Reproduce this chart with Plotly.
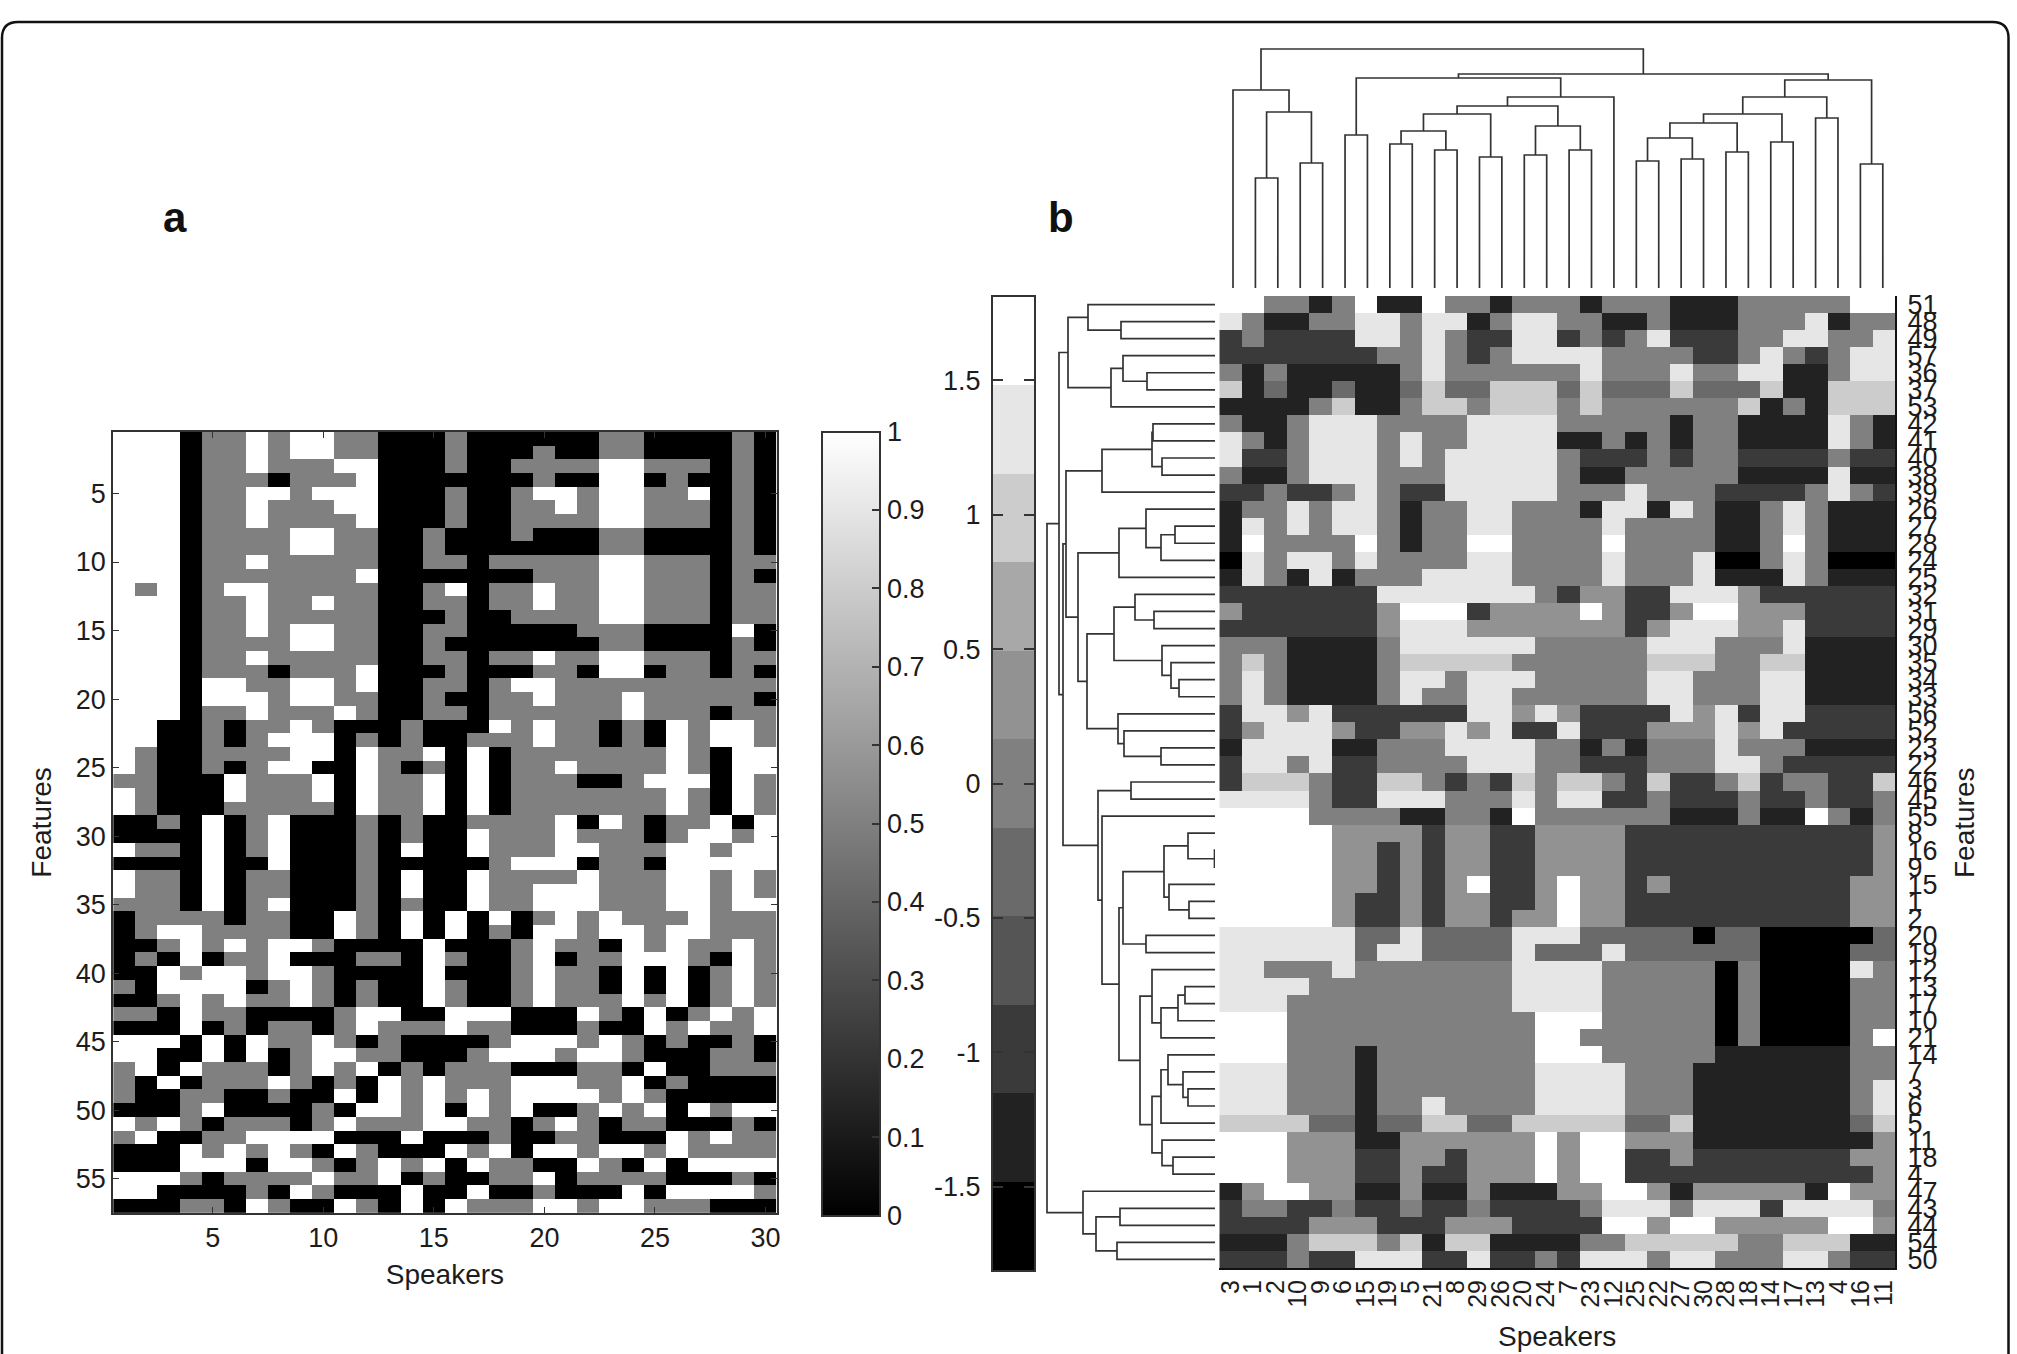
import plotly.graph_objects as go

W, H = 2017, 1354
INK = "#1c1c1c"
LINE = "#333333"
FONT = "Liberation Sans, Arial, sans-serif"

# panel a cells: 0 = black, 1 = grey, 2 = white
panel_a_rows = [
 "222 0 11 2 1 22 11 000 1 000000 11 0000 1 0",
 "222 0 11 2 1 22 11 000 1 000 1 00 11 0000 1 0",
 "222 0 11 2 1 11 22 000 1 00 1111 22 111 0 1 0",
 "222 0 11 1 0 111 2 000 0 00 0 1 00 22 0 1 0 0 1 0",
 "222 0 11 22 1 222 000 1 00 1 22 1 22 11 2 0 1 0",
 "222 0 11 2 111 22 000 1 00 11 2 1 22 111 0 1 0",
 "222 0 11 2 1111 2 000 1 00 1111 22 111 0 1 0",
 "222 0 1111 22 11 00 1 000 1 000 11 0000 1 0",
 "222 0 1111 22 11 00 1 000 0 000 11 0000 1 0",
 "222 0 11 2 11111 00 11 0 11111 22 111 0 1 1",
 "222 0 1111111 2 00 000 00 111 22 111 0 1 0",
 "212 0 1 22 11111 00 1 2 0 11 2 11 22 111 0 11",
 "222 0 11 2 11 2 11 00 11 0 11 2 11 22 111 0 11",
 "222 0 11 2 11111 00 0 1 0 0 1111 22 111 0 11",
 "222 0 11 2 1 22 11 00 11 0 0000 1 11 0000 2 0",
 "222 0 11 1 1 22 11 00 1 0 000000 11 0000 1 0",
 "222 0 11 2 11111 00 11 0 11 2 11 22 111 0 11",
 "222 0 111 0 111 2 00 0 1 0 00 11 0 22 0 11 0 1 0",
 "222 0 22 11 22 1 2 00 11 0 1 22 1111111111",
 "222 0 222 1 22 1 1 00 1 0 0 11 2 111 2 11111 0",
 "222 0 11 2 111 2 1 00 11 0 111111 2 111 0 11",
 "22 00 1 0 11 2 1 000 1 000 2 1 2 11 0 1 0 2 1 22 1",
 "22 00 1 0 1 222 0 1 0 1 00 111 2 11 0 1 0 2 1 22 1",
 "2 1 00 1111 22 0 2 11 2 0 2 0 1111111 2 1 0 2 2",
 "2 1 00 1 0 1 22 00 2 1 0 1 0 2 0 11 2 1111 2 1 0 2 2",
 "11 000 2 111 2 0 2 11 2 0 2 0 111 00 1 222 0 2 1",
 "2 1 000 2 111 2 0 2 11 2 0 2 0 1111111 2 1 0 2 1",
 "2 1 000 1 1111 0 2 11 2 0 2 0 1111111 2 1 0 2 1",
 "00 1 0 2 0 1 2 000 1 0 1 00 1111 2 0 2 1 0 11 2 0 2",
 "0000 2 0 1 2 000 1 0 1 00 2 111 2 111 0 1 22 1 2",
 "2 11 0 2 0 1 2 000 1 0 2 00 2 111 22 111 22 1 22",
 "0000 2 00 2 000 1 0 000 0 1 222 0 11 0 22222",
 "2 11 0 2 0 11 000 1 0 2 00 2 1111 2 1 11 22 1 2 1",
 "2 11 0 2 0 11 000 1 0 2 00 2 11 222 111 22 1 2 1",
 "111 0 2 0 1 2 000 1 0 1 00 2 11 222 111 22 1 22",
 "0 1111 0 11 00 2 1 0 2 0 2 0 2 0 1 2 1 2 111 2 111",
 "0 1 22 1111 00 2 1 0 2 0 2 0 1 0 22 1 22 1 22 111",
 "00 1 2 1 2 1 22 1 0000 2 000 1 2 11 0 2 1 2 11 2 1",
 "0 1 0 2 0 11 2 000 11 0 2 1 00 1 2 0 11 2 22 1 0 2 1",
 "00 2 1 22 1 22 1 0000 2 000 1 2 11 0 2 0 2 0 1 2 1",
 "1 0 2222 0 1 2 1 0 1 00 2 1 00 1 2 11 0 2 0 2 0 1 2 1",
 "00 1 2 1 2 11 2 1 0 1 00 2 1 00 1 2 111 2 1 2 0 1 2 1",
 "11 0 2 11 0000 1 22 00 222 000 2 1 0 2 0 1 2 1 2",
 "000 2 0 1 0 11 0 1 2 111 2 11 000 1 00 2 1 2 11 2",
 "222 0 2 0 2 11 2 1 0 1 0000 1 222 1 2 1 0 1 00 1 0",
 "22 00 2 0 2 0 1 22 11 000 1 222 1 22 1 000 11 0",
 "1 2 0 2 111 0 1 2 1 2 0 1 0 111 000 11 0 2 00 111",
 "1 0 2 0 111 2 1 0 1 0 2 1 2 111 222 11 2 0 1 0000",
 "1 00 11 00 1 00 2 0 2 1 2 1 2 1 2222 1 2 1 00000",
 "000 1 2 0000 1 0 22 1 2 0 2 1 2 00 1 2 1 2 0 2 1 22",
 "2 1 2 1 0 111 0 1 2 111 22 11 0 1 2 1 0 11 000 1 0",
 "1 2 00 11 2222 000 2 000 1 00 11 000 2 1 2 11",
 "000 2 1 2 1 2 1 0 2 1 000 2 1 2 0 22 1 22 1 2 1111",
 "000 222 0 22 1 0 1 2 1 2 0 2 11 00 2 1 0 2 0 2222",
 "222 1 0 1111 2 11 2 0 1 00 11 2 0 1111 000 1 0",
 "22 0000 1 0 2 1 000 2 00 2 00 1 000 2 0 2222 1",
 "000 11 0 2 1 00 2 1 0 2 0 2 111 22 1 22 111 000",
]
panel_a_levels = {"0": 0.0, "1": 0.5, "2": 1.0}
speakers_a = list(range(1, 31))
features_a = list(range(1, 58))

# panel b cells: one character per grey band, 0 = darkest ... a = white
panel_b_rows = [
 "aa 55 1 5 a 11 a 55 1 555 1 555 111 55555 aa",
 "9 5 11 55 99 5 99 1 5 99 55 11 5 111 555 9 1 55",
 "2 5 2222 99 5 9 5 22 99 2 5 2 5 9 222 55 99 55 9",
 "2222222 55 9 5 2 5 9999 5555 22 5 9 5 2 5 99",
 "5 1 5 11111 5 9 555555 9 555 9 55 99 11 5 99",
 "8 1 4 11 4 11 4 8 44 888 4 8 444 8 444 8 11 888",
 "1111 5 8 11 5 88 5 888 5 8 555555 8 1 5 1 888",
 "5 11 5 999 5555 9999 55555 1 55 1111 9 5 1",
 "9 5 1 5 999 5 9 55 9999 11 5 1 5 1 55 1111 9 5 1",
 "9 22 5 999 5 9 5 99999 5 222 5 2 55 2222 5 22",
 "5 11 5 999 555 99999 5 11 55555 1111 9 11",
 "22 5 22 5 9 5 22 99999 555 9 555 2222 5 9 5 2",
 "1 55 9 5 99 5 1 55 99 555 1 99 1 9 5 11 5 9 5 111",
 "1 9 5 9 5 99 5 1 55 99 5555 9 5555 11 5 9 5 111",
 "1 a 5555 a 5 1 55 aa 5555 a 5555 11 5 a 5 111",
 "0 9 5 99 5 9 5555 99 5555 9 555 9 00 5 9 5 000",
 "1 9 5 1 9 1 555 9999 5555 9 555 9 111 9 5 111",
 "2222222 9999999 5 2 66 22 999 6 222222",
 "6 222222 6 aaa 2 6666 a 6 22 6 aa 666 2222",
 "2222222 6 999 6666666 2 6 999 66 9 2222",
 "555 1111 5 999999 55555 999 555 9 1111",
 "5 8 5 1111 5 88888 555555 888 55 88 1111",
 "5 9 5 1111 5 99 5 999 55555 99 555 99 1111",
 "5 9 5 1111 5 9 55 99 555555 99 555 99 1111",
 "2 99 6 9 222222 99 6 9 6 2222 9 6 9 2 99 2222",
 "2 6 999 6 22 66 9 6 9 22 9 222 666 9 6 9 22222",
 "1 9999 11 555 9999 55 1 5 1 555 9 555 1111",
 "2 99 5 9 22 5555 999 55 222 555 99 5 22222",
 "2 888 5 22 88 5 2 5 2 8 5 88 5 2 8 22 5 8 2 55 22 8",
 "9999 5 22 999 555 9 5 99 22 5 222 5 22 5 22 5",
 "aaaa 5555 11 55 1 a 555555 111 5 11 a 5 1 5",
 "aaaaa 6666 2 66 22 6666 22222222222 6",
 "aaaaa 66 2 6 2 66 22 6666 22222222222 6",
 "aaaaa 66 2 6 2 66 22 6666 22222222222 6",
 "aaaaa 66 2 6 2 6 a 22 6 a 66 2 6 22222222 66",
 "aaaaa 6 22 6 2 66 22 6 a 66 2222222222 66",
 "aaaaa 6 22 6 2 66 2 66 a 66 2222222222 66",
 "999999 44 9 4444 999 44444 0 44 00000 4",
 "999999 4 99 4444 9 444 9 444444 0000 44",
 "99 555 9 5555555 9999 55555 0 5 0000 9 5",
 "9999 555555555 9999 55555 0 5 0000 55",
 "999 5555555555 9999 55555 0 5 0000 55",
 "aaa 55555555555 aaa 55555 0 5 0000 55",
 "aaa 55555555555 aa 555555 0 5 0000 5 a",
 "aaa 555 1 5555555 aaa 55555 111111 55",
 "999 555 1 5555555 9999 555 1111111 55",
 "999 555 1 5555555 9999 555 1111111 5 9",
 "999 555 1 55 9 5555 9999 555 1111111 5 9",
 "8888 44 1 44 88 44 88888 44 8 1111111 4 8",
 "aaa 666 11 666666 a 6 aa 666 11111111 6",
 "aaa 666 22 66 2 666 a 6 aa 22 6 2222222 66",
 "aaa 666 22 6 22 666 a 6 aa 22222222222 6",
 "1 6 aa 66 11 6 11 6 111 66 aa 6 1 66666 1 a 66",
 "2 55 22 5 22 5 22 5 2222 5 999 5 999 2 9999 5",
 "2222 666 222 666 2222 aa 6 aa 66666 aa 6",
 "111 5 888 5 8 1 88 1111 55 88888 55 888 11",
 "222 5 22 999 22 9 22 5 2 999 5 99 555 99 5 22",
]
band_chars = "0123456789a"
band_grays = [0, 34, 58, 85, 106, 128, 146, 168, 204, 230, 255]
colorbar_b_limit = 1.81
speakers_b = [3, 1, 2, 10, 9, 6, 15, 19, 5, 21, 8, 29, 26, 20, 24, 7, 23, 12, 25, 22,
              27, 30, 28, 18, 14, 17, 13, 4, 16, 11]
features_b = [51, 48, 49, 57, 36, 37, 53, 42, 41, 40, 38, 39, 26, 27, 28, 24, 25, 32, 31,
              29, 30, 35, 34, 33, 56, 52, 23, 22, 46, 45, 55, 8, 16, 9, 15, 1, 2, 20, 19,
              12, 13, 17, 10, 21, 14, 7, 3, 6, 5, 11, 18, 4, 47, 43, 44, 54, 50]

# dendrograms: (node, left child, right child, height); integers are leaf positions
top_merges = [
 ("A", 2, 3, 110), ("B", 4, 5, 125), ("C", "A", "B", 176), ("D", 1, "C", 198),
 ("E", 6, 7, 153), ("F", 8, 9, 144), ("G", 10, 11, 138), ("H", "F", "G", 157),
 ("I", 12, 13, 131), ("J", "H", "I", 174), ("K", 14, 15, 133), ("L", 16, 17, 138),
 ("M", "K", "L", 162), ("N", "J", "M", 182), ("O", "N", 18, 191), ("P", "E", "O", 210),
 ("Q", 19, 20, 127), ("R", 21, 22, 129), ("S", "Q", "R", 150), ("T", 23, 24, 136),
 ("U", "S", "T", 165), ("V", 25, 26, 146), ("X", "U", "V", 174), ("Y", 27, 28, 170),
 ("Z", "X", "Y", 191), ("AA", 29, 30, 124), ("AB", "Z", "AA", 208),
 ("AC", "P", "AB", 214), ("AD", "D", "AC", 239),
]
left_merges = [
 ("L1", 2, 3, 94), ("L2", 1, "L1", 127), ("L3", 5, 6, 68), ("L4", 4, "L3", 92),
 ("L5", "L4", 7, 104), ("L6", "L2", "L5", 147), ("L7", 8, 9, 62), ("L8", 10, 11, 53),
 ("L9", "L7", "L8", 63), ("L10", "L9", 12, 113), ("L11", 14, 15, 40), ("L12", "L11", 16, 54),
 ("L13", 13, "L12", 69), ("L14", "L13", 17, 96), ("L15", 19, 20, 61), ("L16", 18, "L15", 80),
 ("L17", 23, 24, 36), ("L18", 22, "L17", 44), ("L19", 21, "L18", 53), ("L20", "L16", "L19", 101),
 ("L21", 27, 28, 54), ("L22", 26, "L21", 91), ("L23", 25, "L22", 97), ("L24", "L20", "L23", 128),
 ("L25", "L14", "L24", 137), ("L26", "L10", "L25", 149), ("L27", 29, 30, 84), ("L28", 33, 34, 0.5),
 ("L29", 32, "L28", 27), ("L30", 36, 37, 26), ("L31", 35, "L30", 46), ("L32", "L29", "L31", 51),
 ("L33", 38, 39, 69), ("L34", "L32", "L33", 92), ("L35", 41, 42, 30), ("L36", "L35", 43, 37),
 ("L37", "L36", 44, 54), ("L38", 40, "L37", 63), ("L39", 47, 48, 27), ("L40", 46, "L39", 32),
 ("L41", 45, "L40", 47), ("L42", "L41", 49, 54), ("L43", 51, 52, 42), ("L44", 50, "L43", 53),
 ("L45", "L42", "L44", 63), ("L46", "L38", "L45", 75), ("L47", "L34", "L46", 96), ("L48", 31, "L47", 113),
 ("L49", "L27", "L48", 117), ("L50", "L26", "L49", 152), ("L51", "L6", "L50", 156),
 ("L52", 54, 55, 95), ("L53", 56, 57, 98), ("L54", "L52", "L53", 119), ("L55", 53, "L54", 132),
 ("L56", "L51", "L55", 168),
]


def dendro_paths(merges):
    """Leaf-position / height polyline through every merge, separated by gaps."""
    pos, hgt = {}, {}
    along, up = [], []
    for name, a, b, h in merges:
        pa, pb = pos.get(a, a), pos.get(b, b)
        ha, hb = hgt.get(a, 0), hgt.get(b, 0)
        along += [pa, pa, pb, pb, None]
        up += [ha, h, h, hb, None]
        pos[name], hgt[name] = (pa + pb) / 2, h
    return along, up


def px_x(x):
    return x / W


def px_y(y):
    return 1 - y / H


def cells(rows):
    return [list(r.replace(" ", "")) for r in rows]


fig = go.Figure()

tick_a = dict(family=FONT, size=27, color=INK)
tick_key = dict(family=FONT, size=27, color=INK)
tick_right = dict(family=FONT, size=27, color=INK)
tick_bottom = dict(family=FONT, size=25, color=INK)
title_font = dict(family=FONT, size=28, color=INK)

# ---- panel a ----
Z_a = [[panel_a_levels[c] for c in row] for row in cells(panel_a_rows)]
AX_L, AX_R, AY_T, AY_B = 113.2, 776.6, 431.8, 1213
CB_L, CB_R, CB_T, CB_B = 822, 880, 431.5, 1215
fig.add_trace(go.Heatmap(
    z=Z_a, x=speakers_a, y=features_a, zmin=0, zmax=1,
    colorscale=[[0, "rgb(0,0,0)"], [1, "rgb(255,255,255)"]],
    xaxis="x", yaxis="y", hoverinfo="skip",
    colorbar=dict(
        x=px_x(CB_L), xanchor="left", xpad=0, ypad=0,
        y=px_y(CB_T), yanchor="top", len=(CB_B - CB_T) / H, lenmode="fraction",
        thickness=CB_R - CB_L, thicknessmode="pixels",
        tick0=0, dtick=0.1, ticks="inside", ticklen=9, tickwidth=1.5, tickcolor=LINE,
        tickfont=tick_key,
        outlinecolor=LINE, outlinewidth=2, borderwidth=0,
    ),
))

# ---- panel b ----
n_bands = len(band_chars)
band_width = 2 * colorbar_b_limit / n_bands
band_center = {c: -colorbar_b_limit + (i + 0.5) * band_width for i, c in enumerate(band_chars)}
band_scale = []
for i, g in enumerate(band_grays):
    col = f"rgb({g},{g},{g})"
    band_scale += [[i / n_bands, col], [(i + 1) / n_bands, col]]

Z_b = [[band_center[c] for c in row] for row in cells(panel_b_rows)]
slots_x = list(range(1, 31))
slots_y = list(range(1, 58))
BX_L, BX_R, BY_T, BY_B = 1219.3, 1895, 296, 1268
fig.add_trace(go.Heatmap(
    z=Z_b, x=slots_x, y=slots_y, zmin=-colorbar_b_limit, zmax=colorbar_b_limit,
    colorscale=band_scale, showscale=False, xaxis="x2", yaxis="y2", hoverinfo="skip",
))

# colour key of panel b, drawn on its own axis so its labels sit on the left
band_values = [band_center[c] for c in band_chars]
fig.add_trace(go.Heatmap(
    z=[[v] for v in band_values], x=[0], y=band_values,
    zmin=-colorbar_b_limit, zmax=colorbar_b_limit, colorscale=band_scale, showscale=False,
    xaxis="x5", yaxis="y5", hoverinfo="skip",
))

# dendrograms
tx, ty = dendro_paths(top_merges)
fig.add_trace(go.Scatter(x=tx, y=ty, mode="lines", line=dict(color=LINE, width=1.7),
                         xaxis="x3", yaxis="y3", hoverinfo="skip", showlegend=False))
lx, ly = dendro_paths(left_merges)
fig.add_trace(go.Scatter(x=ly, y=lx, mode="lines", line=dict(color=LINE, width=1.7),
                         xaxis="x4", yaxis="y4", hoverinfo="skip", showlegend=False))

hidden = dict(visible=False, fixedrange=True)
shapes = []
# left-hand ticks of panel a's colour key
for t in [k / 10 for k in range(1, 10)]:
    yy = CB_B + (CB_T - CB_B) * t
    shapes.append(dict(type="line", xref="paper", yref="paper",
                       x0=px_x(CB_L), x1=px_x(CB_L + 9), y0=px_y(yy), y1=px_y(yy),
                       line=dict(color=LINE, width=1.5)))
# rounded frame around the whole figure, open at the bottom
FL, FR, FT, R = 2.0, 2008.5, 22.0, 16.0
frame = (f"M {px_x(FL)} 0 L {px_x(FL)} {px_y(FT + R)} "
         f"Q {px_x(FL)} {px_y(FT)} {px_x(FL + R)} {px_y(FT)} "
         f"L {px_x(FR - R)} {px_y(FT)} "
         f"Q {px_x(FR)} {px_y(FT)} {px_x(FR)} {px_y(FT + R)} "
         f"L {px_x(FR)} 0")
shapes.append(dict(type="path", xref="paper", yref="paper", path=frame,
                   line=dict(color="#111111", width=2.5)))

fig.update_layout(
    width=W, height=H, margin=dict(l=0, r=0, t=0, b=0, pad=0, autoexpand=False),
    paper_bgcolor="white", plot_bgcolor="white", showlegend=False,
    font=dict(family=FONT, color=INK),
    shapes=shapes,
    annotations=[
        dict(text="<b>a</b>", x=px_x(175), y=px_y(218), xref="paper", yref="paper",
             xanchor="center", yanchor="middle", showarrow=False,
             font=dict(family=FONT, size=42, color="#111111")),
        dict(text="<b>b</b>", x=px_x(1061), y=px_y(218), xref="paper", yref="paper",
             xanchor="center", yanchor="middle", showarrow=False,
             font=dict(family=FONT, size=42, color="#111111")),
        dict(text="Features", x=px_x(1964), y=px_y(823), xref="paper", yref="paper",
             xanchor="center", yanchor="middle", showarrow=False, textangle=-90,
             font=title_font),
    ],
    xaxis=dict(domain=[px_x(AX_L), px_x(AX_R)], range=[0.5, 30.5], anchor="y",
               tickmode="array", tickvals=[5, 10, 15, 20, 25, 30], ticks="inside", ticklen=6,
               tickcolor=LINE, showline=True, linecolor=LINE, linewidth=2, mirror="ticks",
               showgrid=False, zeroline=False, tickfont=tick_a,
               title=dict(text="Speakers", font=title_font, standoff=12), fixedrange=True),
    yaxis=dict(domain=[px_y(AY_B), px_y(AY_T)], range=[57.5, 0.5], anchor="x",
               tickmode="array", tickvals=[5, 10, 15, 20, 25, 30, 35, 40, 45, 50, 55],
               ticks="inside", ticklen=6, tickcolor=LINE, showline=True, linecolor=LINE,
               linewidth=2, mirror="ticks", showgrid=False, zeroline=False, tickfont=tick_a,
               title=dict(text="Features", font=title_font, standoff=16), fixedrange=True),
    xaxis2=dict(domain=[px_x(BX_L), px_x(BX_R)], range=[0.5, 30.5], anchor="y2",
                tickmode="array", tickvals=slots_x, ticktext=[str(s) for s in speakers_b],
                tickangle=-90, ticks="", showline=True, linecolor="#111111", linewidth=2,
                showgrid=False, zeroline=False, tickfont=tick_bottom,
                title=dict(text="Speakers", font=title_font, standoff=20), fixedrange=True),
    yaxis2=dict(domain=[px_y(BY_B), px_y(BY_T)], range=[57.5, 0.5], anchor="x2", side="right",
                tickmode="array", tickvals=slots_y, ticktext=[str(f) for f in features_b],
                ticks="", ticklabelstandoff=5, showline=True, linecolor="#111111", linewidth=2,
                showgrid=False, zeroline=False, tickfont=tick_right, fixedrange=True),
    xaxis3=dict(domain=[px_x(1221.8), px_x(1894)], range=[0.5, 30.5], anchor="y3", **hidden),
    yaxis3=dict(domain=[px_y(288), px_y(48)], range=[0, 240], anchor="x3", **hidden),
    xaxis4=dict(domain=[px_x(1045), px_x(1215)], range=[170, 0], anchor="y4", **hidden),
    yaxis4=dict(domain=[px_y(BY_B), px_y(BY_T)], range=[57.5, 0.5], anchor="x4", **hidden),
    xaxis5=dict(domain=[px_x(993), px_x(1034)], range=[-0.5, 0.5], anchor="y5",
                showticklabels=False, ticks="", showline=True, linecolor=LINE, linewidth=2,
                mirror=True, showgrid=False, zeroline=False, fixedrange=True),
    yaxis5=dict(domain=[px_y(1270), px_y(297)], range=[-colorbar_b_limit, colorbar_b_limit],
                anchor="x5", tickmode="array", tickvals=[-1.5, -1, -0.5, 0, 0.5, 1, 1.5],
                ticktext=["-1.5", "-1", "-0.5", "0", "0.5", "1", "1.5"], ticks="inside",
                ticklen=10, tickwidth=2, tickcolor=LINE, mirror="ticks", showline=True,
                linecolor=LINE, linewidth=2, showgrid=False, zeroline=False, tickfont=tick_key,
                ticklabelstandoff=5, fixedrange=True),
)

fig.write_html("out.html", config=dict(displayModeBar=False),
               post_script="document.body.style.margin='0';document.body.style.overflow='hidden';")
